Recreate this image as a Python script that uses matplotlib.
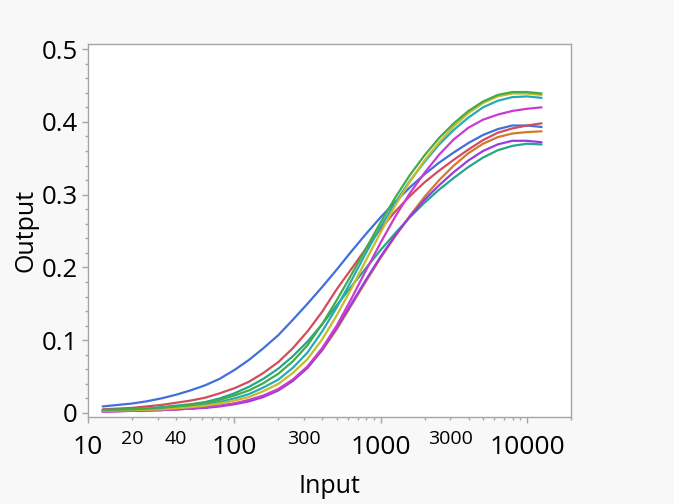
import matplotlib
matplotlib.use('Agg')
import matplotlib.pyplot as plt
from matplotlib.ticker import FixedLocator, FixedFormatter, FuncFormatter

plt.rcParams['font.family'] = ['Open Sans', 'DejaVu Sans']

# ---- data ----
x_input = [12.6, 15.8, 20.0, 25.1, 31.6, 39.8, 50.1, 63.1, 79.4, 100, 126, 158, 200, 251, 316, 398,
           501, 631, 794, 1000, 1259, 1585, 1995, 2512, 3162, 3981, 5012, 6310, 7943, 10000, 12589]

blue = [0.009, 0.011, 0.013, 0.016, 0.020, 0.025, 0.031, 0.038, 0.047, 0.059, 0.073, 0.089, 0.107, 0.128, 0.150, 0.173,
        0.197, 0.222, 0.246, 0.269, 0.290, 0.310, 0.328, 0.344, 0.358, 0.371, 0.382, 0.390, 0.395, 0.395, 0.393]
red = [0.005, 0.006, 0.007, 0.009, 0.011, 0.014, 0.017, 0.021, 0.027, 0.034, 0.043, 0.055, 0.070, 0.089, 0.112, 0.139,
       0.170, 0.198, 0.226, 0.253, 0.277, 0.298, 0.317, 0.333, 0.348, 0.362, 0.375, 0.385, 0.391, 0.395, 0.398]
teal_green = [0.004, 0.0045, 0.005, 0.006, 0.008, 0.010, 0.012, 0.015, 0.020, 0.027, 0.036, 0.047, 0.061, 0.078, 0.098, 0.122,
              0.148, 0.174, 0.199, 0.224, 0.247, 0.269, 0.289, 0.307, 0.323, 0.338, 0.351, 0.361, 0.367, 0.370, 0.369]
green = [0.004, 0.0045, 0.005, 0.006, 0.007, 0.009, 0.011, 0.014, 0.018, 0.024, 0.031, 0.041, 0.054, 0.071, 0.093, 0.122,
         0.155, 0.190, 0.226, 0.262, 0.296, 0.327, 0.354, 0.378, 0.398, 0.415, 0.428, 0.437, 0.441, 0.441, 0.439]
teal = [0.003, 0.0035, 0.004, 0.005, 0.006, 0.007, 0.009, 0.012, 0.015, 0.020, 0.026, 0.035, 0.046, 0.062, 0.083, 0.112,
        0.145, 0.182, 0.220, 0.256, 0.289, 0.319, 0.345, 0.369, 0.389, 0.406, 0.420, 0.429, 0.434, 0.435, 0.433]
yellow = [0.003, 0.0035, 0.004, 0.0045, 0.005, 0.0065, 0.008, 0.010, 0.013, 0.017, 0.022, 0.030, 0.040, 0.055, 0.074, 0.101,
          0.134, 0.171, 0.210, 0.248, 0.285, 0.318, 0.347, 0.372, 0.394, 0.412, 0.426, 0.435, 0.439, 0.439, 0.437]
magenta = [0.002, 0.0025, 0.003, 0.0035, 0.004, 0.005, 0.006, 0.008, 0.010, 0.013, 0.018, 0.024, 0.033, 0.046, 0.064, 0.089,
           0.120, 0.157, 0.196, 0.234, 0.270, 0.302, 0.330, 0.355, 0.376, 0.392, 0.403, 0.410, 0.415, 0.418, 0.420]
orange = [0.002, 0.0025, 0.003, 0.0035, 0.004, 0.005, 0.006, 0.008, 0.010, 0.013, 0.017, 0.023, 0.032, 0.045, 0.062, 0.086,
          0.115, 0.148, 0.181, 0.213, 0.243, 0.271, 0.297, 0.320, 0.340, 0.357, 0.370, 0.379, 0.384, 0.386, 0.387]
purple = [0.002, 0.0025, 0.003, 0.0035, 0.004, 0.005, 0.006, 0.007, 0.009, 0.012, 0.016, 0.022, 0.031, 0.044, 0.062, 0.087,
          0.117, 0.150, 0.183, 0.215, 0.244, 0.270, 0.293, 0.313, 0.331, 0.347, 0.360, 0.369, 0.374, 0.374, 0.372]

series = [blue, red, teal_green, orange, purple, magenta, teal, yellow, green]
colors = ['#4070dc', '#d44c5c', '#22a888', '#d27a2c', '#9a3ae0', '#c83cd0', '#26aab8', '#c8bc2a', '#46aa48']

major_x = [10, 100, 1000, 10000]
major_x_labels = ['10', '100', '1000', '10000']
minor_x = [20, 30, 40, 50, 60, 70, 80, 90, 200, 300, 400, 500, 600, 700, 800, 900,
           2000, 3000, 4000, 5000, 6000, 7000, 8000, 9000, 20000]
minor_x_labelled = {20: '20', 40: '40', 300: '300', 3000: '3000'}
major_y = [0, 0.1, 0.2, 0.3, 0.4, 0.5]
major_y_labels = ['0', '0.1', '0.2', '0.3', '0.4', '0.5']
minor_y = [0.02, 0.04, 0.06, 0.08, 0.12, 0.14, 0.16, 0.18, 0.22, 0.24, 0.26, 0.28,
           0.32, 0.34, 0.36, 0.38, 0.42, 0.44, 0.46, 0.48]

# ---- figure ----
W, H = 674, 504
fig = plt.figure(figsize=(W / 100, H / 100), dpi=100, facecolor='#f8f8f8')
ax = fig.add_axes([88 / W, 1 - 417 / H, 483 / W, 373 / H])
ax.set_facecolor('white')

for vals, c in zip(series, colors):
    ax.plot(x_input, vals, color=c, lw=1.6, solid_capstyle='round', solid_joinstyle='round')

ax.set_xscale('log')
ax.set_xlim(10, 20000)
ax.set_ylim(-0.0055, 0.507)

ax.xaxis.set_major_locator(FixedLocator(major_x))
ax.xaxis.set_major_formatter(FixedFormatter(major_x_labels))
ax.xaxis.set_minor_locator(FixedLocator(minor_x))
ax.xaxis.set_minor_formatter(FuncFormatter(lambda v, p: minor_x_labelled.get(int(round(v)), '')))
ax.yaxis.set_major_locator(FixedLocator(major_y))
ax.yaxis.set_major_formatter(FixedFormatter(major_y_labels))
ax.yaxis.set_minor_locator(FixedLocator(minor_y))

gray = '#a4a4a4'
for s in ax.spines.values():
    s.set_color(gray)
    s.set_linewidth(1.0)

ax.tick_params(axis='x', which='major', length=4.3, width=1, color=gray, labelsize=19, pad=8.5, labelcolor='black')
ax.tick_params(axis='x', which='minor', length=2.5, width=1, color=gray, labelsize=14, pad=7, labelcolor='black')
ax.tick_params(axis='y', which='major', length=4.3, width=1, color=gray, labelsize=18.5, pad=3, labelcolor='black')
ax.tick_params(axis='y', which='minor', length=2.5, width=1, color=gray)

ax.set_xlabel('Input', fontsize=18)
ax.set_ylabel('Output', fontsize=18)
ax.xaxis.set_label_coords(0.5, (417 - 474) / 373)
ax.yaxis.set_label_coords((38 - 88) / 483, 0.5)

fig.savefig('out.png', dpi=100, facecolor=fig.get_facecolor())
